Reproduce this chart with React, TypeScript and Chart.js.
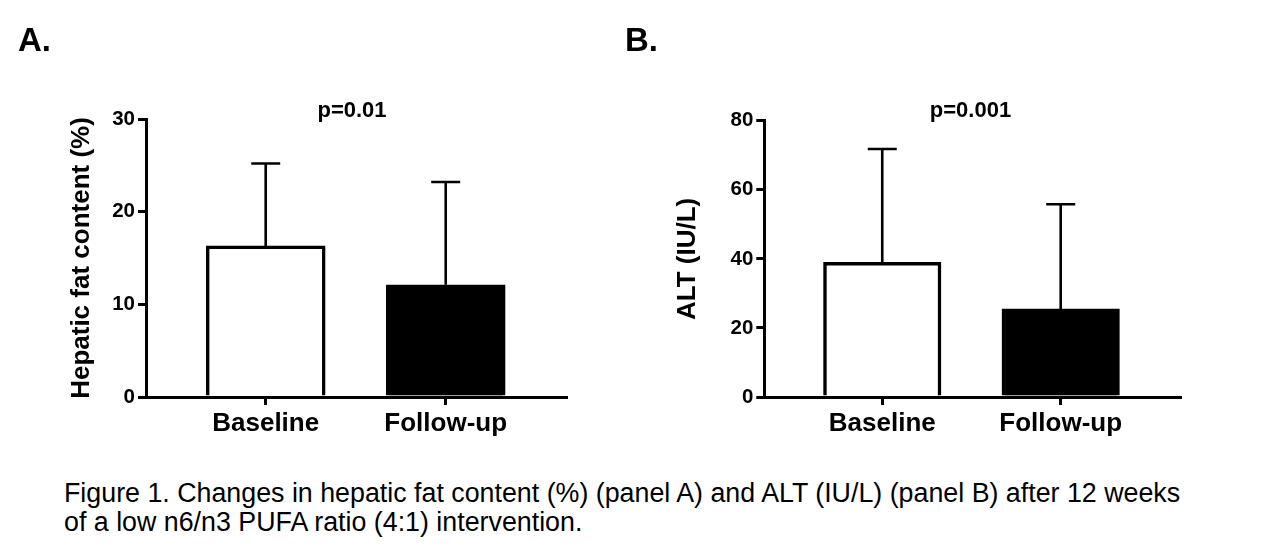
import React, { useEffect, useRef } from 'react';
import { Chart, registerables } from 'chart.js';

Chart.register(...registerables);

// ---- data ----
const categories = ['Baseline', 'Follow-up'];
const fatMeans = [16.3, 12.1];
const fatSD = [8.9, 11.1];
const altMeans = [39.0, 25.5];
const altSD = [32.8, 30.3];
const fatTicks = [0, 10, 20, 30];
const altTicks = [0, 20, 40, 60, 80];
const barColors = ['#ffffff', '#000000'];
const fatTitle = 'Hepatic fat content (%)';
const altTitle = 'ALT (IU/L)';
const fatP = 'p=0.01';
const altP = 'p=0.001';
const panelLetters = ['A.', 'B.'];
const captionLines = [
  'Figure 1. Changes in hepatic fat content (%) (panel A) and ALT (IU/L) (panel B) after 12 weeks',
  'of a low n6/n3 PUFA ratio (4:1) intervention.',
];

const FONT = '"Liberation Sans", Arial, Helvetica, sans-serif';
const CANVAS_W = 640;
const CANVAS_H = 460;

type Geo = {
  left: number;
  right: number;
  top: number;
  bottom: number;
  titleX: number;
  barW: number;
  xMin: number;
  xMax: number;
  pX: number;
};

const geoA: Geo = { left: 146, right: 566.5, top: 119, bottom: 397, titleX: 82, barW: 119, xMin: -0.665, xMax: 1.671, pX: 352 };
const geoB: Geo = { left: 124.3, right: 540.8, top: 120.7, bottom: 397, titleX: 48, barW: 117.5, xMin: -0.661, xMax: 1.673, pX: 330.5 };

function makeConfig(means: number[], sd: number[], ticks: number[], yTitle: string, pText: string, g: Geo): any {
  const errPlugin = {
    id: 'errbars',
    afterDatasetsDraw(chart: any) {
      const ctx = chart.ctx;
      const meta = chart.getDatasetMeta(0);
      const ys = chart.scales.y;
      ctx.save();
      ctx.strokeStyle = '#000';
      ctx.lineWidth = 2.6;
      ctx.lineCap = 'butt';
      meta.data.forEach((el: any, i: number) => {
        const x = el.x;
        const yBar = ys.getPixelForValue(means[i]);
        const yTop = ys.getPixelForValue(means[i] + sd[i]);
        ctx.beginPath();
        ctx.moveTo(x, yBar);
        ctx.lineTo(x, yTop);
        ctx.moveTo(x - 14.5, yTop);
        ctx.lineTo(x + 14.5, yTop);
        ctx.stroke();
      });
      ctx.fillStyle = '#000';
      ctx.font = `bold 22px ${FONT}`;
      ctx.textAlign = 'center';
      ctx.textBaseline = 'alphabetic';
      ctx.fillText(pText, g.pX, 117);
      ctx.restore();
    },
  };

  const lh = 26 * 1.2;
  return {
    type: 'bar',
    data: {
      datasets: [
        {
          data: means.map((m, i) => ({ x: i, y: m })),
          backgroundColor: barColors,
          borderColor: '#000',
          borderWidth: 3.5,
          barThickness: g.barW,
        },
      ],
    },
    options: {
      responsive: false,
      animation: false,
      devicePixelRatio: 1,
      layout: { padding: { left: 0, top: g.top, right: CANVAS_W - g.right, bottom: 0 } },
      plugins: { legend: { display: false }, tooltip: { enabled: false }, title: { display: false } },
      scales: {
        x: {
          type: 'linear',
          offset: false,
          min: g.xMin,
          max: g.xMax,
          bounds: 'data',
          afterDataLimits: (s: any) => {
            s.min = g.xMin;
            s.max = g.xMax;
          },
          afterBuildTicks: (s: any) => {
            s.ticks = categories.map((_, i) => ({ value: i }));
          },
          afterFit: (s: any) => {
            s.height = CANVAS_H - g.bottom;
          },
          ticks: {
            callback: (v: any) => categories[v] ?? '',
            font: { family: FONT, size: 26, weight: 'bold' },
            color: '#000',
            padding: 3,
            maxRotation: 0,
            autoSkip: false,
          },
          grid: { offset: false, drawOnChartArea: false, drawTicks: true, tickLength: 8, color: '#000', lineWidth: 3 },
          border: { display: true, color: '#000', width: 3 },
        },
        y: {
          type: 'linear',
          min: 0,
          max: ticks[ticks.length - 1],
          afterBuildTicks: (s: any) => {
            s.ticks = ticks.map((v) => ({ value: v }));
          },
          afterFit: (s: any) => {
            s.width = g.left;
          },
          ticks: {
            font: { family: FONT, size: 20.5, weight: 'bold' },
            color: '#000',
            padding: 3,
          },
          grid: { drawOnChartArea: false, drawTicks: true, tickLength: 8, color: '#000', lineWidth: 3 },
          border: { display: true, color: '#000', width: 3 },
          title: {
            display: true,
            text: yTitle,
            color: '#000',
            font: { family: FONT, size: 26, weight: 'bold', lineHeight: 1.2 },
            padding: { top: g.titleX - lh / 2, bottom: 0 },
          },
        },
      },
    },
    plugins: [errPlugin],
  };
}

function Panel(props: { left: number; means: number[]; sd: number[]; ticks: number[]; yTitle: string; pText: string; g: Geo }) {
  const ref = useRef<HTMLCanvasElement | null>(null);
  useEffect(() => {
    if (!ref.current) return;
    const chart = new Chart(ref.current, makeConfig(props.means, props.sd, props.ticks, props.yTitle, props.pText, props.g));
    return () => chart.destroy();
  }, []);
  return (
    <canvas
      ref={ref}
      width={CANVAS_W}
      height={CANVAS_H}
      style={{ position: 'absolute', left: props.left, top: 0, width: CANVAS_W, height: CANVAS_H }}
    />
  );
}

export default function App() {
  useEffect(() => {
    document.body.style.margin = '0';
    document.body.style.background = '#fff';
  }, []);
  const letterStyle: React.CSSProperties = {
    position: 'absolute',
    top: 23,
    fontFamily: FONT,
    fontWeight: 'bold',
    fontSize: 33,
    lineHeight: '33px',
    color: '#000',
    margin: 0,
  };
  return (
    <div style={{ position: 'relative', width: 1280, height: 557, background: '#fff', overflow: 'hidden' }}>
      <Panel left={0} means={fatMeans} sd={fatSD} ticks={fatTicks} yTitle={fatTitle} pText={fatP} g={geoA} />
      <Panel left={640} means={altMeans} sd={altSD} ticks={altTicks} yTitle={altTitle} pText={altP} g={geoB} />
      <div style={{ ...letterStyle, left: 18 }}>{panelLetters[0]}</div>
      <div style={{ ...letterStyle, left: 625 }}>{panelLetters[1]}</div>
      <div
        style={{
          position: 'absolute',
          left: 64,
          top: 479,
          fontFamily: FONT,
          fontSize: 26.8,
          lineHeight: '29px',
          color: '#000',
          whiteSpace: 'nowrap',
        }}
      >
        {captionLines.map((t, i) => (
          <div key={i}>{t}</div>
        ))}
      </div>
    </div>
  );
}
